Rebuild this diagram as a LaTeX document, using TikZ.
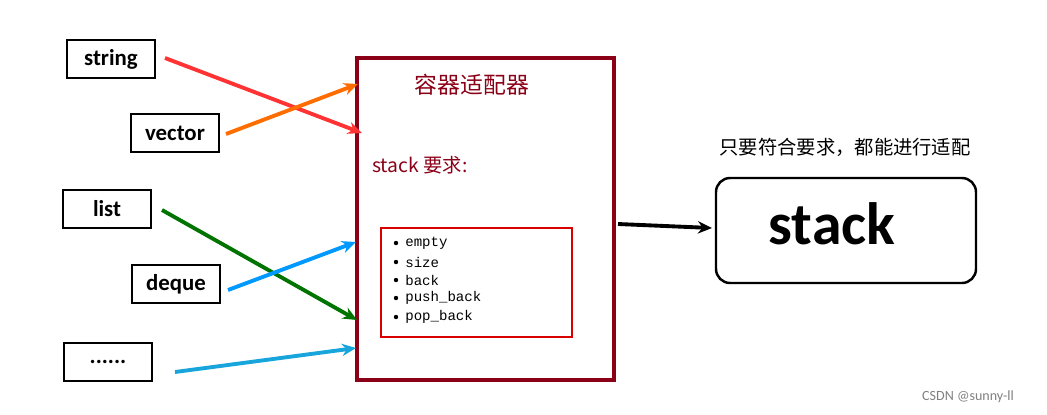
\documentclass[tikz,border=0pt]{standalone}
\usepackage{fontspec}
\setmainfont{Carlito}
\newfontfamily\cjk{Noto Sans CJK SC}
\newfontfamily\monof{Liberation Mono}
\usetikzlibrary{arrows.meta}
\definecolor{dred}{HTML}{8B0016}
\begin{document}
\begin{tikzpicture}[x=0.02cm,y=-0.02cm,
  lbl/.style={draw,line width=1.6pt,minimum width=88*0.02cm,minimum height=38*0.02cm,font=\bfseries\fontsize{13}{15}\selectfont,inner sep=0},
  arr/.style={line width=2.2pt,-{Stealth[length=8pt,width=7pt]}}]
\useasboundingbox (0,0) rectangle (1047,414);
\node[lbl] (string) at (111,59) {string};
\node[lbl] (vector) at (175,133) {vector};
\node[lbl] (list) at (107,209) {list};
\node[lbl] (deque) at (176,284) {deque};
\node[lbl] (dots) at (108,362) {......};
\node[draw=dred,line width=2.4pt,minimum width=257*0.02cm,minimum height=322*0.02cm] (big) at (485.5,219) {};
\node[text=dred,font=\cjk\fontsize{13}{15}\selectfont] (title) at (472,85) {容器适配器};
\node[text=dred,font=\cjk\fontsize{11}{13}\selectfont,anchor=west] (req) at (366,165) {stack 要求:};
\node[draw=red!85!black,line width=1pt,minimum width=191*0.02cm,minimum height=109*0.02cm] (inner) at (476.5,282.5) {};
\foreach \t/\y in {empty/243,size/262,back/280,push\_back/298,pop\_back/317}{
  \fill (396,\y) circle (2.2);
  \node[anchor=west,font=\monof\fontsize{8}{9}\selectfont,inner sep=0] at (405,\y) {\t};
}
\node[draw,rounded corners=8pt,line width=1.4pt,minimum width=260*0.02cm,minimum height=105*0.02cm] (stack) at (846,230.5) {};
\node[font=\bfseries\fontsize{34}{38}\selectfont] (stxt) at (832,224) {stack};
\node[font=\cjk\fontsize{11}{13}\selectfont] (note) at (845,147) {只要符合要求，都能进行适配};
\node[text=gray,font=\fontsize{8}{9}\selectfont] (wm) at (968,397) {CSDN @sunny-ll};
\coordinate (s0) at (165,58); \coordinate (s1) at (362,133);
\coordinate (v0) at (226,134); \coordinate (v1) at (358,84);
\coordinate (l0) at (162,210); \coordinate (l1) at (357,320);
\coordinate (d0) at (228,290); \coordinate (d1) at (356,242);
\coordinate (o0) at (175,372); \coordinate (o1) at (356,348);
\coordinate (b0) at (618,224); \coordinate (b1) at (712,228);
\draw[arr,red!80] (s0) -- (s1);
\draw[arr,orange!85!red] (v0) -- (v1);
\draw[arr,green!45!black] (l0) -- (l1);
\draw[arr,blue!40!cyan] (d0) -- (d1);
\draw[arr,cyan!80!teal] (o0) -- (o1);
\draw[arr,black] (b0) -- (b1);
\end{tikzpicture}
\end{document}
